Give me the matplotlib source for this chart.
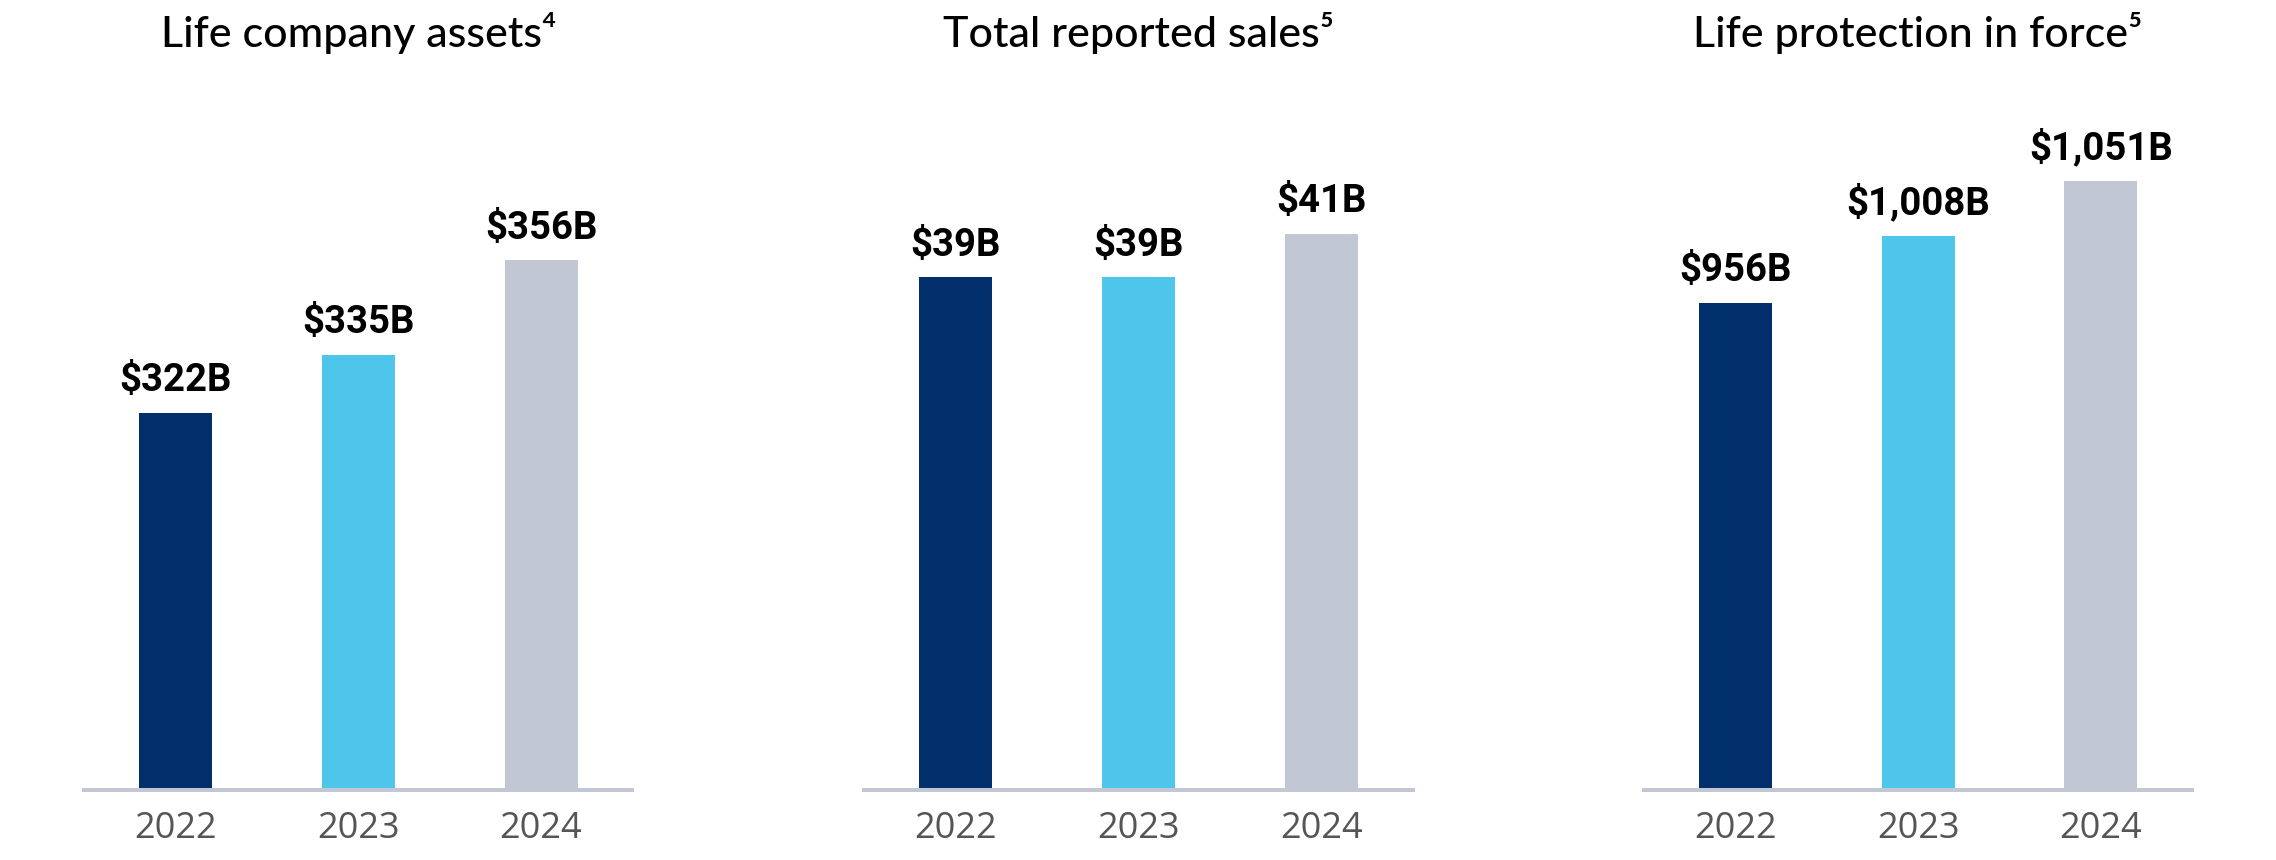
import matplotlib
matplotlib.use("Agg")
import matplotlib.pyplot as plt

# ---- data ----
years = ["2022", "2023", "2024"]
titles = ["Life company assets\u2074", "Total reported sales\u2075", "Life protection in force\u2075"]
assets = [322, 335, 356]
sales = [39, 39, 41]
protection = [956, 1008, 1051]
labels_assets = ["$322B", "$335B", "$356B"]
labels_sales = ["$39B", "$39B", "$41B"]
labels_protection = ["$956B", "$1,008B", "$1,051B"]

series = [assets, sales, protection]
labels = [labels_assets, labels_sales, labels_protection]

# ---- style ----
bar_colors = ["#002F6C", "#4EC6EC", "#C1C8D4"]
axis_color = "#C1C8D4"
W, H = 2276, 860
ylims = [(237.9, 391.8), (15.44, 47.15), (575.4, 1114.4)]
lefts_px = [84.3, 864.4, 1644.0]
width_px = 548.1
bottom_px = 789.7
top_px = 100.0

fig = plt.figure(figsize=(W / 100, H / 100), dpi=100)
fig.patch.set_facecolor("white")

for i in range(3):
    ax = fig.add_axes([lefts_px[i] / W, (H - bottom_px) / H,
                       width_px / W, (bottom_px - top_px) / H])
    x = list(range(len(years)))
    bars = ax.bar(x, series[i], width=0.40, color=bar_colors, zorder=1)
    ax.set_xlim(-0.5, 2.5)
    ax.set_ylim(*ylims[i])
    for s in ["top", "left", "right"]:
        ax.spines[s].set_visible(False)
    ax.spines["bottom"].set_color(axis_color)
    ax.spines["bottom"].set_linewidth(2.9)
    ax.spines["bottom"].set_zorder(3)
    ax.set_yticks([])
    ax.set_xticks(x)
    ax.set_xticklabels(years, family=["Open Sans", "DejaVu Sans"], fontsize=26,
                       color="#555555")
    ax.tick_params(axis="x", length=0, pad=15)
    for b, lab in zip(bars, labels[i]):
        ax.annotate(lab, (b.get_x() + b.get_width() / 2, b.get_height()),
                    xytext=(0, 15.5), textcoords="offset points",
                    ha="center", va="baseline", fontsize=27.5, fontweight="bold",
                    family=["Roboto", "DejaVu Sans"], color="black")
    cx = (lefts_px[i] + width_px / 2) / W
    fig.text(cx, 1 - 47.0 / H, titles[i], ha="center", va="baseline",
             fontsize=31, fontweight="medium", family=["Lato", "DejaVu Sans"],
             color="black")

fig.savefig("out.png", dpi=100, facecolor="white")
